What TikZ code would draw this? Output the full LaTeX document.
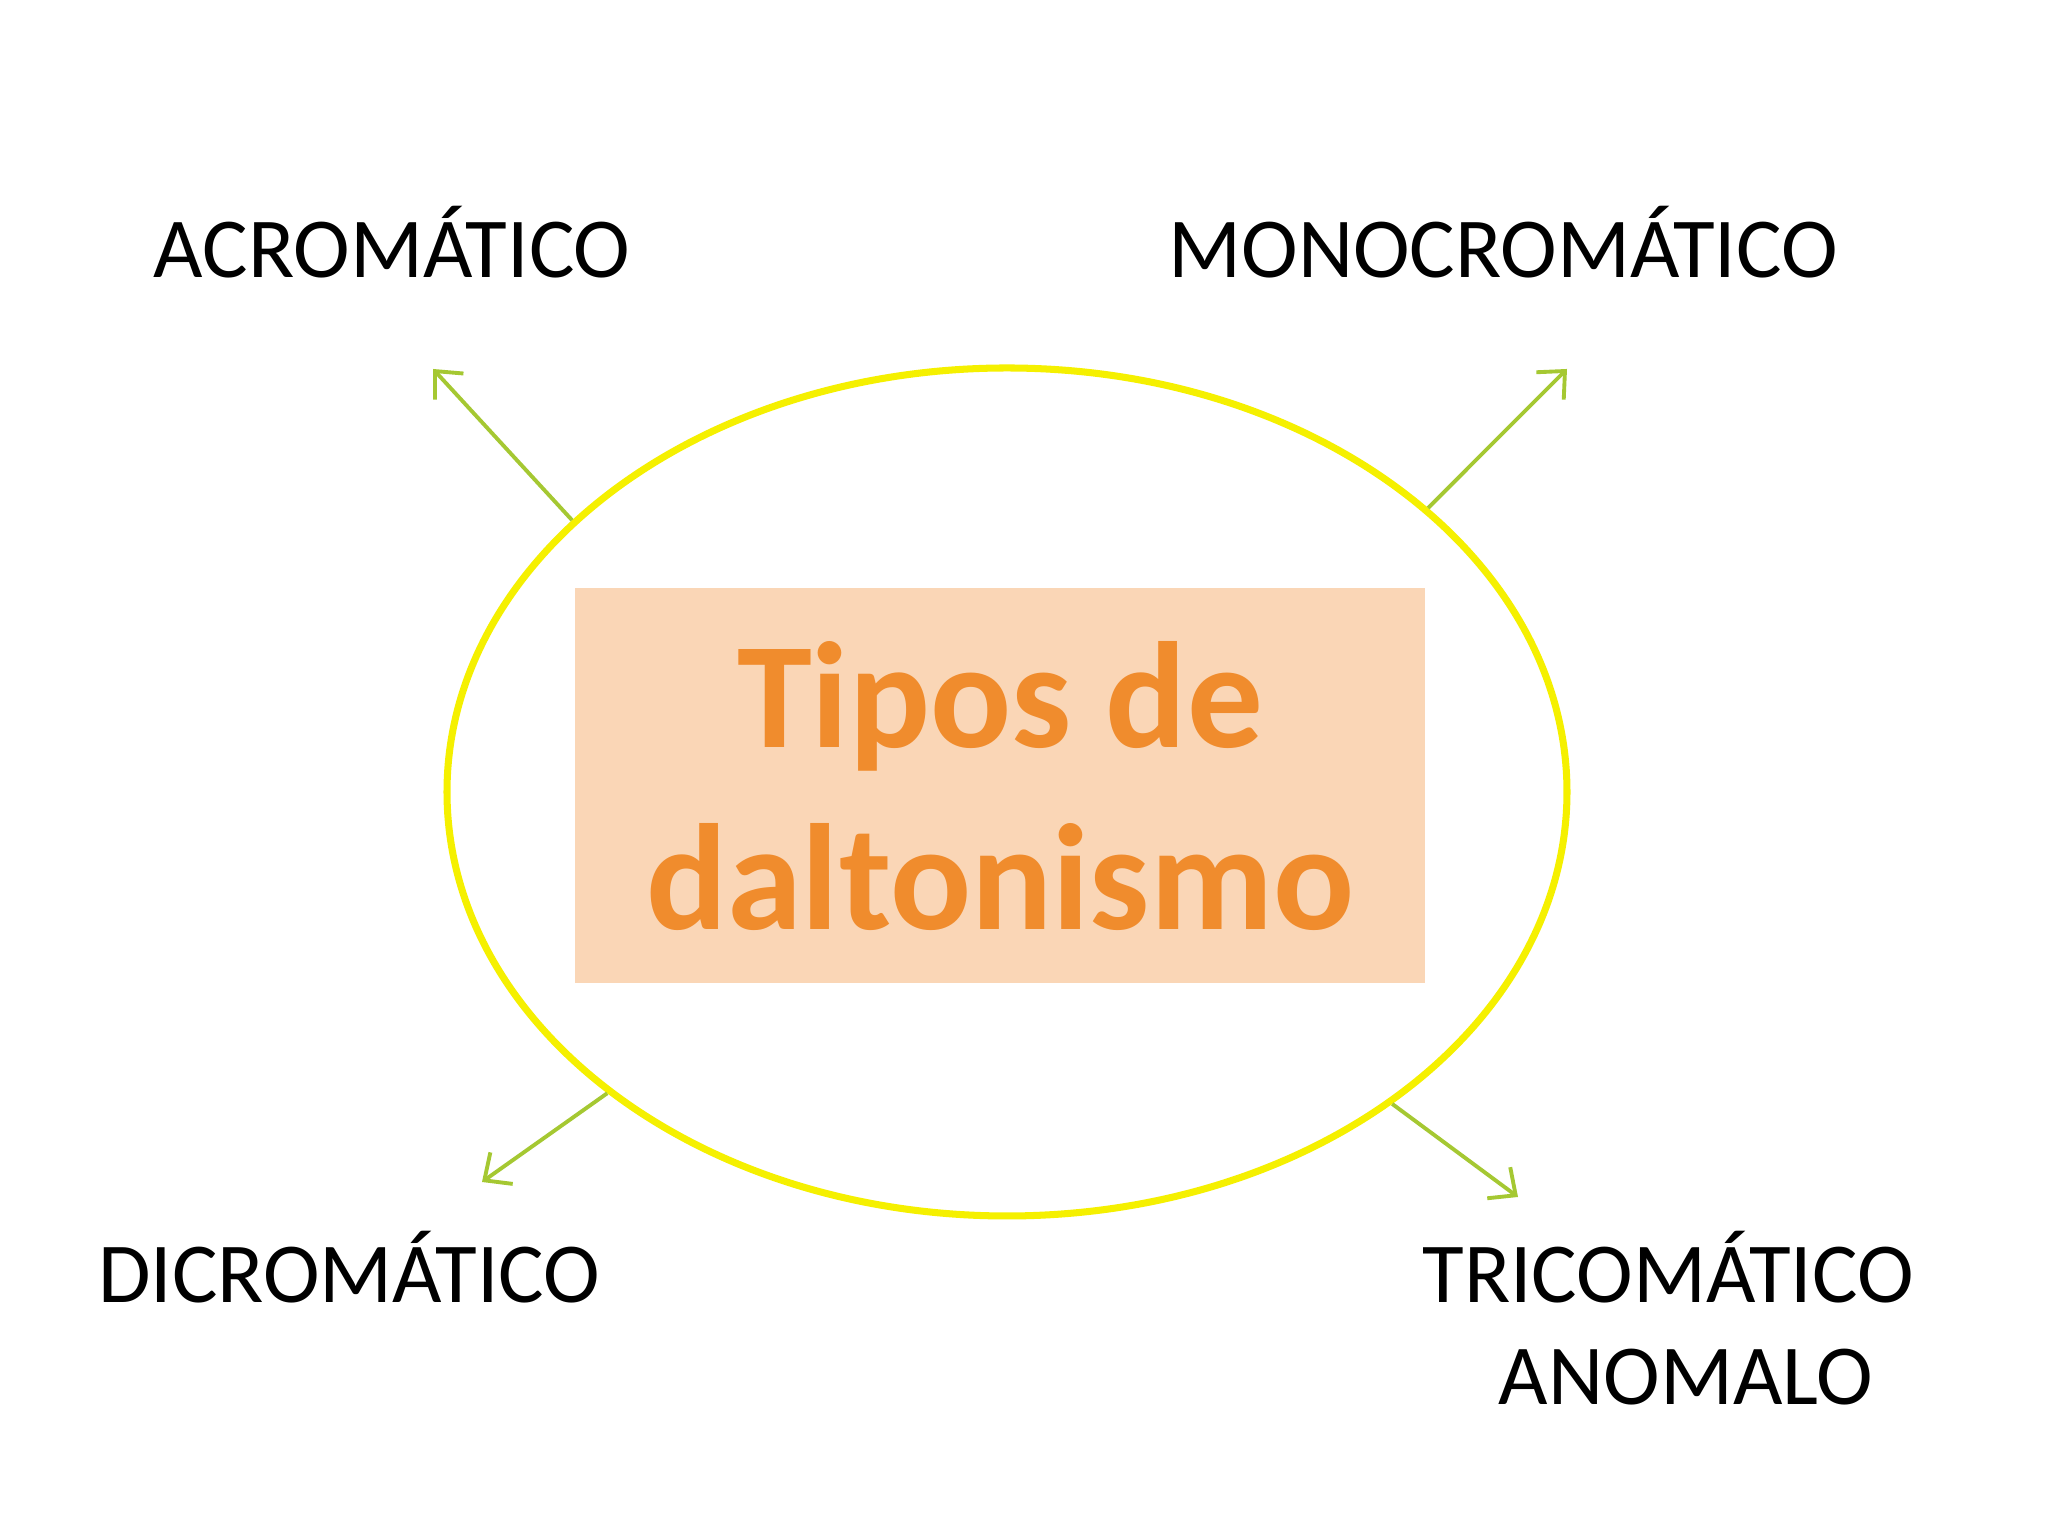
\documentclass[tikz,border=0pt]{standalone}
\usepackage{fontspec}
\setmainfont{Carlito}
\usetikzlibrary{shapes.geometric,arrows.meta,positioning}
\definecolor{ringyellow}{RGB}{245,240,0}
\definecolor{arrowgreen}{RGB}{165,200,50}
\definecolor{peach}{RGB}{250,214,182}
\definecolor{titleorange}{RGB}{240,140,45}
\tikzset{
  kind/.style={font=\fontsize{24.3}{29}\selectfont, inner sep=0pt, anchor=base},
  branch/.style={draw=arrowgreen, line width=1.1pt, -{Straight Barb[length=6pt,width=11pt]}},
}

\begin{document}
\begin{tikzpicture}[>=stealth]
    \useasboundingbox[fill=white] (0,0) rectangle (20.48,15.36);

    \node[ellipse, draw=ringyellow, line width=2pt, inner sep=0pt,
          minimum width=11.2cm, minimum height=8.48cm](ring) at (10.07,7.44){};

    \node[fill=peach, minimum width=8.5cm, minimum height=3.95cm, align=center,
          text=titleorange, font=\fontsize{43}{52}\selectfont\bfseries](title) at (10.00,7.50){Tipos de\\daltonismo};

    \node[kind](acro) at (3.92,12.58){ACROMÁTICO};
    \node[kind](mono) at (15.03,12.58){MONOCROMÁTICO};
    \node[kind](dicro) at (3.49,2.33){DICROMÁTICO};
    \node[kind](tri) at (16.68,2.33){TRICOMÁTICO};
    \node[kind](anom) at (16.86,1.31){ANOMALO};

    \coordinate (tipacro) at (4.33,11.67);
    \coordinate (tipmono) at (15.67,11.67);
    \coordinate (tipdicro) at (4.82,3.54);
    \coordinate (tiptri) at (15.18,3.39);

    \draw[branch](ring.148.4) -- (tipacro);
    \draw[branch](ring.34) -- (tipmono);
    \draw[branch](ring.217.2) -- (tipdicro);
    \draw[branch](ring.321.1) -- (tiptri);
\end{tikzpicture}
\end{document}
